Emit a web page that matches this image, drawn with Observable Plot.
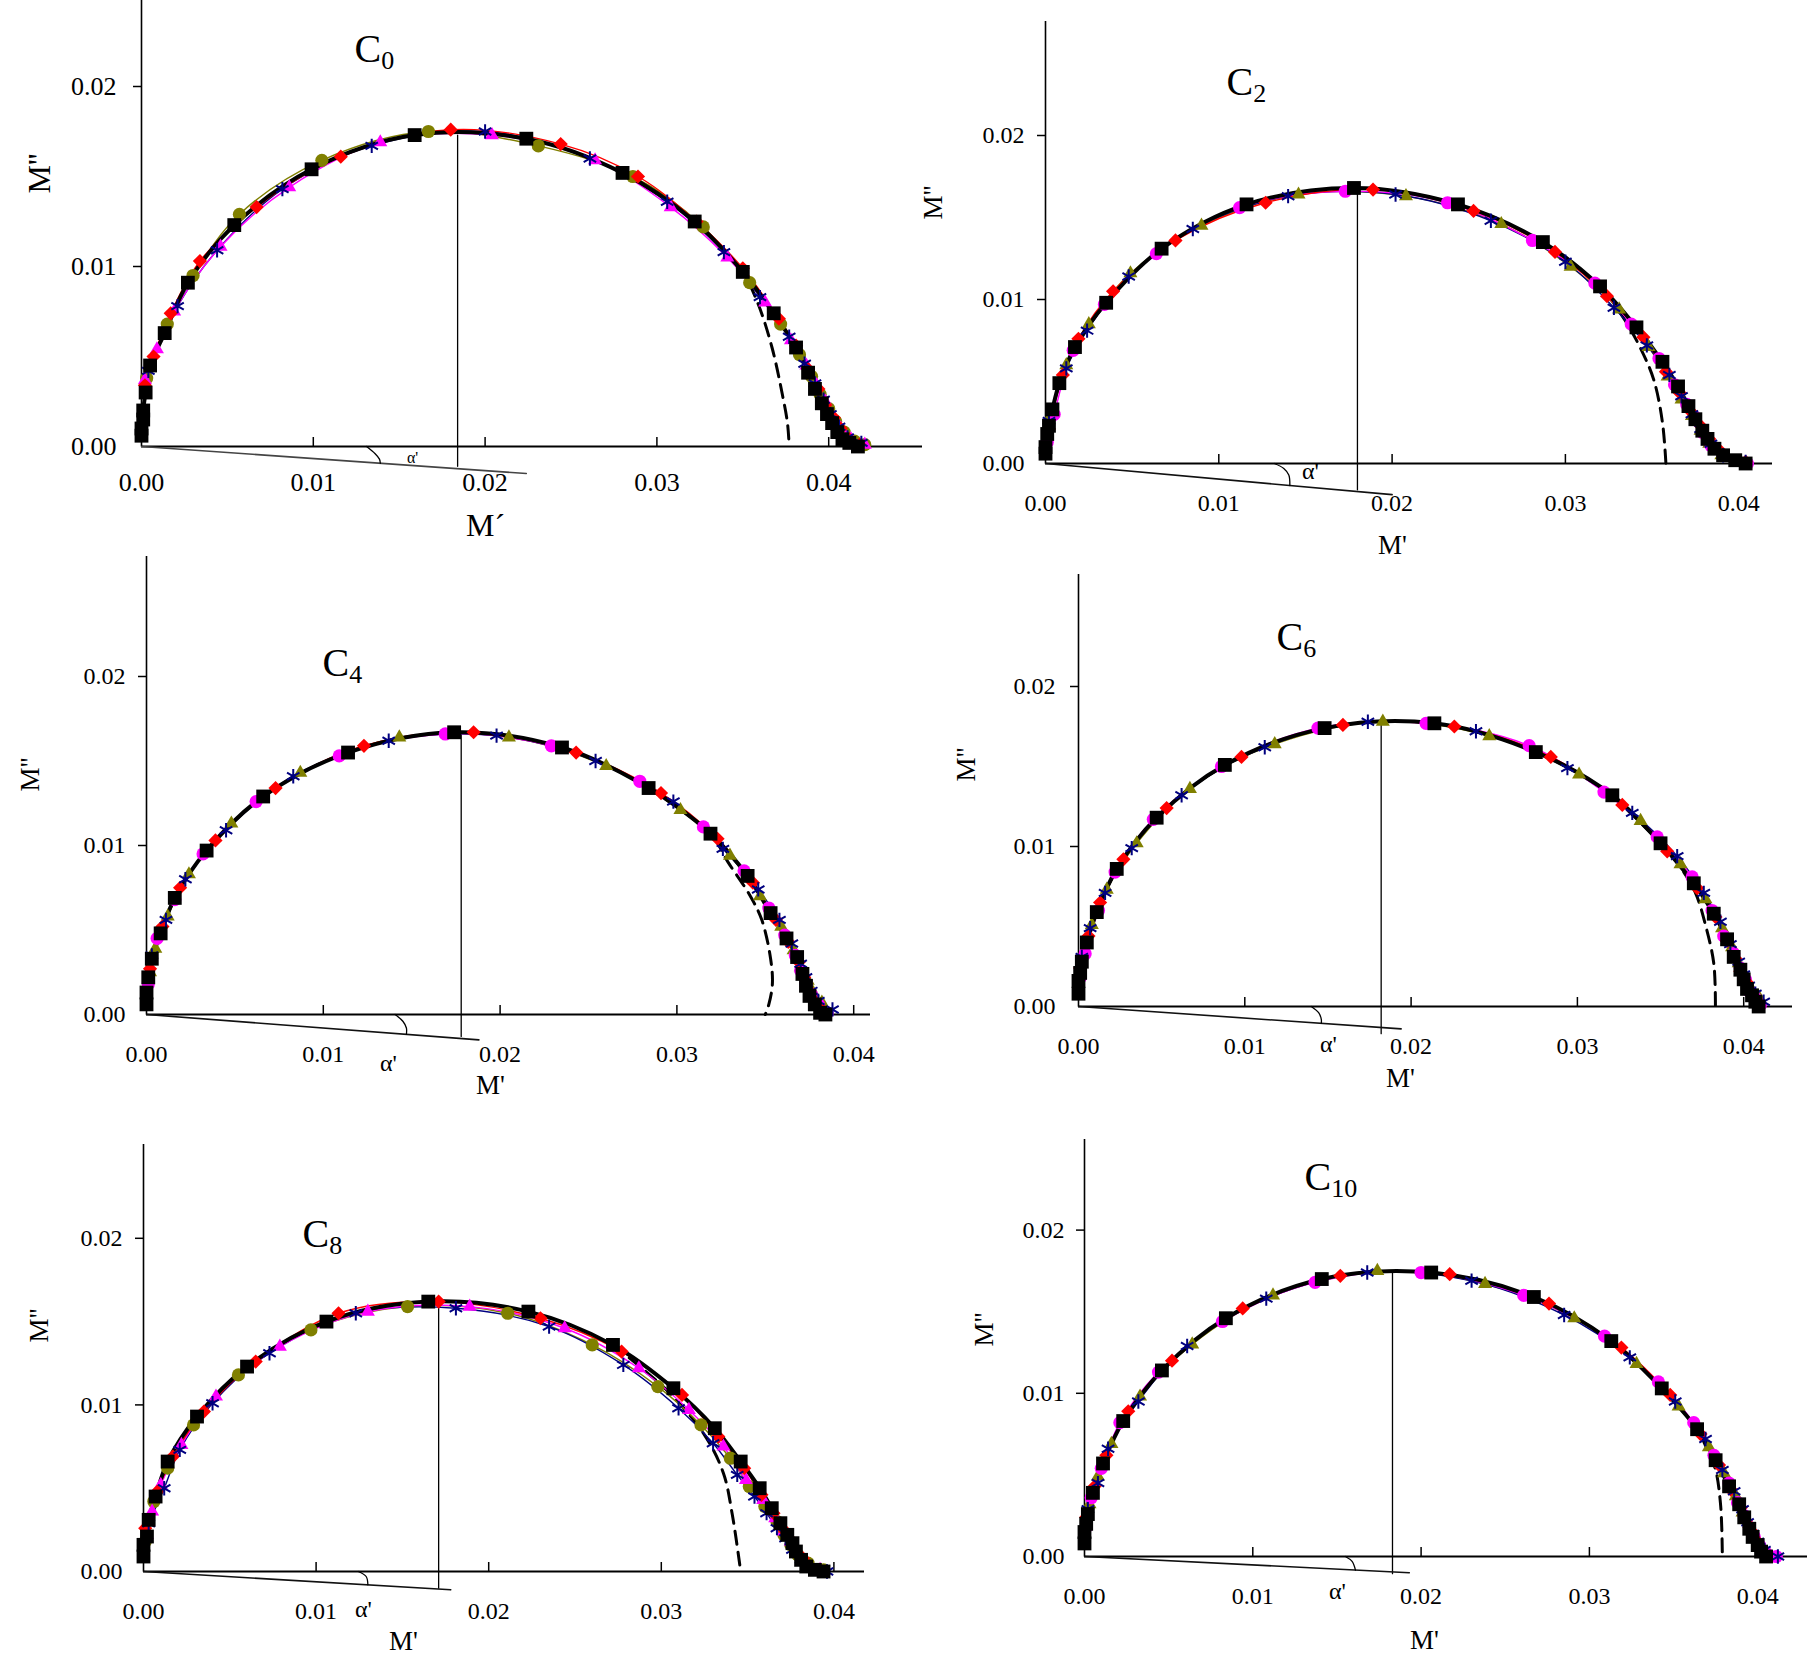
<!DOCTYPE html>
<html><head><meta charset="utf-8">
<script src="https://cdn.jsdelivr.net/npm/d3@7"></script>
<script src="https://cdn.jsdelivr.net/npm/@observablehq/plot@0.6"></script>
<style>
body{margin:0;background:#fff;}
#wrap{position:relative;width:1820px;height:1673px;overflow:hidden;background:#fff;}
.pn{position:absolute;}
</style></head><body><div id="wrap"></div>
<script>
// ---------- tick values ----------
const xTicks = [0, 0.01, 0.02, 0.03, 0.04];
const yTicks = [0, 0.01, 0.02];

// ---------- C0 ----------
const C0_black = [[0,0.0006],[0,0.001],[0.0001,0.0015],[0.0001,0.002],[0.00024,0.003],[0.0005,0.0045],[0.00135,0.0063],[0.0027,0.0091],[0.0054,0.0123],[0.0099,0.0154],[0.0159,0.0173],[0.0224,0.0171],[0.028,0.0152],[0.0322,0.0125],[0.035,0.0097],[0.0368,0.0074],[0.0381,0.0055],[0.0388,0.0041],[0.0392,0.0032],[0.0396,0.0024],[0.0399,0.0018],[0.0402,0.0013],[0.0405,0.0008],[0.0408,0.0004],[0.0412,0.0002],[0.0417,0]];
const C0_red = [[0.0002,0.0034],[0.0007,0.005],[0.0017,0.0074],[0.0034,0.0103],[0.0067,0.0133],[0.0116,0.0161],[0.018,0.0176],[0.0244,0.0168],[0.0289,0.015],[0.0323,0.0125],[0.035,0.0099],[0.0371,0.0071],[0.0381,0.0056],[0.0388,0.0043],[0.0394,0.0032],[0.0398,0.0023],[0.0403,0.0016],[0.0407,0.001],[0.0412,0.0004],[0.0418,0.0001]];
const C0_navy = [[0.0004,0.0042],[0.0021,0.0078],[0.0044,0.0109],[0.0082,0.0143],[0.0134,0.0167],[0.02,0.0175],[0.0261,0.016],[0.0306,0.0136],[0.0339,0.0108],[0.036,0.0083],[0.0377,0.0061],[0.0386,0.0046],[0.0392,0.0035],[0.0397,0.0026],[0.0401,0.0018],[0.0406,0.0011],[0.0411,0.0005],[0.0419,0.0002]];
const C0_olive = [[0.0003,0.0038],[0.0015,0.0068],[0.003,0.0095],[0.0057,0.0129],[0.0105,0.0159],[0.0167,0.0175],[0.0231,0.0167],[0.0286,0.015],[0.0327,0.0122],[0.0354,0.0091],[0.0372,0.0068],[0.0383,0.0051],[0.039,0.0039],[0.0395,0.0029],[0.04,0.0021],[0.0404,0.0014],[0.0409,0.0008],[0.0415,0.0003],[0.0421,0.0001]];
const C0_mag = [[0.0002,0.0037],[0.0009,0.0054],[0.0019,0.0075],[0.0046,0.0111],[0.0086,0.0144],[0.0139,0.0169],[0.0204,0.0173],[0.0264,0.0159],[0.0308,0.0133],[0.0341,0.0105],[0.0363,0.008],[0.0378,0.0059],[0.0387,0.0045],[0.0393,0.0034],[0.0398,0.0025],[0.0402,0.0017],[0.0407,0.001],[0.0413,0.0004],[0.0421,0.0001]];
const C0_dash = [[0.0322,0.0125],[0.0338,0.011],[0.035,0.0097],[0.0359,0.0079],[0.0367,0.0055],[0.0373,0.0029],[0.0376,0.0013],[0.0377,0]];
const C0_vert = [[0.0184,0.0173],[0.0184,-0.0011]];
const C0_slant = [[0,0],[0.0224,-0.0015]];
const C0_arc = [[0.0131,0],[0.0136,-0.0004],[0.01385,-0.0007],[0.0139,-0.00093]];

// ---------- C2 ----------
const C2_black = [[0,0.0006],[0,0.001],[0.0001,0.0018],[0.0002,0.0023],[0.0004,0.0033],[0.0008,0.0049],[0.0017,0.0071],[0.0035,0.0098],[0.0067,0.0131],[0.0116,0.0158],[0.0178,0.0168],[0.0238,0.0158],[0.0287,0.0135],[0.032,0.0108],[0.0341,0.0083],[0.0356,0.0062],[0.0365,0.0047],[0.0371,0.0035],[0.0375,0.0027],[0.0379,0.002],[0.0382,0.0015],[0.0386,0.0009],[0.0391,0.0005],[0.0398,0.0002],[0.0404,0]];
const C2_mag = [[0.0001,0.0013],[0.0005,0.003],[0.0016,0.0069],[0.0034,0.0097],[0.0064,0.0128],[0.0112,0.0156],[0.0173,0.0166],[0.0232,0.0159],[0.0281,0.0136],[0.0317,0.011],[0.0338,0.0085],[0.0354,0.0064],[0.0363,0.0048],[0.037,0.0036],[0.0375,0.0028],[0.0379,0.0019],[0.0384,0.0011],[0.0391,0.0005],[0.0405,0]];
const C2_red = [[0.0002,0.0021],[0.001,0.0054],[0.0019,0.0076],[0.0039,0.0105],[0.0075,0.0136],[0.0127,0.0159],[0.0189,0.0167],[0.0247,0.0154],[0.0294,0.0129],[0.0324,0.0102],[0.0345,0.0077],[0.0358,0.0056],[0.0366,0.0043],[0.0372,0.0032],[0.0378,0.0023],[0.0383,0.0015],[0.039,0.0007],[0.0404,0.0001]];
const C2_navy = [[0.0002,0.0026],[0.0012,0.0058],[0.0024,0.0081],[0.0048,0.0114],[0.0085,0.0143],[0.014,0.0163],[0.0202,0.0164],[0.0257,0.0148],[0.03,0.0123],[0.0328,0.0095],[0.0347,0.0072],[0.036,0.0054],[0.0367,0.0041],[0.0373,0.003],[0.0378,0.0021],[0.0384,0.0012],[0.0391,0.0005],[0.0404,0.0001]];
const C2_olive = [[0.0003,0.0029],[0.0012,0.006],[0.0025,0.0085],[0.0049,0.0116],[0.009,0.0145],[0.0146,0.0164],[0.0208,0.0163],[0.0263,0.0146],[0.0303,0.012],[0.0331,0.0094],[0.0348,0.0071],[0.0359,0.0053],[0.0367,0.0039],[0.0373,0.0029],[0.0378,0.002],[0.0383,0.0012],[0.039,0.0005],[0.0401,0.0001]];
const C2_dash = [[0.0287,0.0135],[0.032,0.0108],[0.0334,0.0088],[0.0343,0.0071],[0.0351,0.0051],[0.0356,0.0025],[0.0358,0]];
const C2_vert = [[0.018,0.0168],[0.018,-0.0016]];
const C2_slant = [[0,0],[0.02,-0.0019]];
const C2_arc = [[0.0132,0],[0.01375,-0.0003],[0.01404,-0.0007],[0.0141,-0.00134]];

// ---------- C4 ----------
const C4_black = [[0,0.0006],[0,0.0013],[0.0001,0.0022],[0.0003,0.0033],[0.0008,0.0048],[0.0016,0.0069],[0.0034,0.0097],[0.0066,0.0129],[0.0114,0.0155],[0.0174,0.0167],[0.0235,0.0158],[0.0284,0.0134],[0.0319,0.0107],[0.034,0.0082],[0.0353,0.006],[0.0362,0.0045],[0.0368,0.0034],[0.0371,0.0024],[0.0373,0.0017],[0.0375,0.0011],[0.0378,0.0006],[0.0381,0.0001],[0.0384,0]];
const C4_mag = [[0.0001,0.0018],[0.0006,0.0045],[0.0016,0.0068],[0.0032,0.0095],[0.0062,0.0126],[0.0109,0.0153],[0.0169,0.0166],[0.0229,0.0159],[0.0279,0.0138],[0.0315,0.0111],[0.0338,0.0085],[0.0352,0.0063],[0.0361,0.0047],[0.0367,0.0035],[0.037,0.0026],[0.0373,0.0018],[0.0376,0.0012],[0.038,0.0006],[0.0385,0.0001]];
const C4_red = [[0.0002,0.0027],[0.0009,0.0052],[0.0019,0.0075],[0.0039,0.0103],[0.0073,0.0134],[0.0123,0.0159],[0.0185,0.0167],[0.0243,0.0155],[0.0291,0.0131],[0.0323,0.0104],[0.0343,0.0078],[0.0356,0.0056],[0.0363,0.0043],[0.0369,0.0031],[0.0372,0.0022],[0.0374,0.0015],[0.0377,0.0009],[0.0381,0.0004]];
const C4_navy = [[0.0003,0.0035],[0.0011,0.0056],[0.0022,0.008],[0.0045,0.0109],[0.0083,0.0141],[0.0137,0.0162],[0.0198,0.0165],[0.0254,0.015],[0.0298,0.0126],[0.0326,0.0098],[0.0346,0.0074],[0.0358,0.0056],[0.0365,0.0042],[0.037,0.003],[0.0373,0.0022],[0.0376,0.0014],[0.038,0.0008],[0.0388,0.0003]];
const C4_olive = [[0.0002,0.0025],[0.0005,0.0039],[0.0012,0.0058],[0.0024,0.0083],[0.0048,0.0113],[0.0087,0.0143],[0.0143,0.0164],[0.0205,0.0164],[0.026,0.0147],[0.0302,0.0121],[0.033,0.0094],[0.0347,0.007],[0.0359,0.0052],[0.0366,0.0038],[0.037,0.0028],[0.0374,0.002],[0.0377,0.0013],[0.0382,0.0007]];
const C4_dash = [[0.0284,0.0134],[0.0319,0.0107],[0.0329,0.009],[0.0341,0.0071],[0.0348,0.0056],[0.0353,0.0033],[0.0354,0.0018],[0.0352,0.0006],[0.035,0]];
const C4_vert = [[0.0178,0.0167],[0.0178,-0.0013]];
const C4_slant = [[0,0],[0.0188,-0.0015]];
const C4_arc = [[0.01406,0],[0.0145,-0.0004],[0.0147,-0.0008],[0.0147,-0.00117]];

// ---------- C6 ----------
const C6_black = [[0,0.0008],[0,0.0016],[0.0001,0.0021],[0.0002,0.0028],[0.0005,0.004],[0.0011,0.0059],[0.0023,0.0086],[0.0047,0.0118],[0.0088,0.0151],[0.0148,0.0174],[0.0214,0.0177],[0.0275,0.0159],[0.0321,0.0132],[0.035,0.0102],[0.037,0.0077],[0.0382,0.0058],[0.039,0.0042],[0.0394,0.0031],[0.0398,0.0023],[0.04,0.0017],[0.0402,0.0011],[0.0405,0.0007],[0.0407,0.0003],[0.0409,0]];
const C6_mag = [[0.0001,0.0018],[0.0004,0.0033],[0.0012,0.006],[0.0022,0.0084],[0.0045,0.0117],[0.0086,0.015],[0.0144,0.0174],[0.0209,0.0177],[0.0271,0.0163],[0.0316,0.0134],[0.0348,0.0106],[0.0369,0.0081],[0.0381,0.006],[0.0388,0.0044],[0.0394,0.0033],[0.0398,0.0024],[0.0401,0.0017],[0.0403,0.001],[0.0407,0.0005],[0.041,0.0001]];
const C6_red = [[0.0001,0.0024],[0.0006,0.0044],[0.0013,0.0065],[0.0027,0.0092],[0.0053,0.0124],[0.0098,0.0156],[0.0159,0.0176],[0.0226,0.0175],[0.0284,0.0156],[0.0327,0.0126],[0.0354,0.0097],[0.0372,0.0074],[0.0383,0.0056],[0.039,0.0041],[0.0395,0.003],[0.0398,0.0022],[0.0402,0.0015],[0.0405,0.0009],[0.0408,0.0004]];
const C6_navy = [[0.0002,0.0031],[0.0007,0.0049],[0.0016,0.0071],[0.0032,0.0099],[0.0062,0.0132],[0.0112,0.0162],[0.0174,0.0178],[0.0239,0.0172],[0.0294,0.0149],[0.0333,0.0121],[0.036,0.0094],[0.0376,0.0071],[0.0386,0.0053],[0.0392,0.0039],[0.0397,0.0028],[0.04,0.002],[0.0403,0.0013],[0.0407,0.0008],[0.0412,0.0003]];
const C6_olive = [[0.0003,0.0033],[0.0008,0.0051],[0.0017,0.0073],[0.0035,0.0102],[0.0067,0.0136],[0.0118,0.0164],[0.0183,0.0178],[0.0247,0.0169],[0.0301,0.0145],[0.0338,0.0116],[0.0362,0.0089],[0.0377,0.0067],[0.0387,0.0049],[0.0393,0.0037],[0.0397,0.0027],[0.0401,0.0019],[0.0404,0.0012],[0.0409,0.0006]];
const C6_dash = [[0.0321,0.0132],[0.035,0.0102],[0.0362,0.0087],[0.0371,0.0071],[0.0377,0.0051],[0.0382,0.0027],[0.0383,0]];
const C6_vert = [[0.0182,0.0177],[0.0182,-0.0017]];
const C6_slant = [[0,0],[0.0194,-0.0014]];
const C6_arc = [[0.014,0],[0.01445,-0.0004],[0.0146,-0.0008],[0.0146,-0.00105]];

// ---------- C8 ----------
const C8_black = [[0,0.0009],[0,0.0016],[0.0002,0.0021],[0.0003,0.0031],[0.0007,0.0045],[0.0014,0.0066],[0.0031,0.0093],[0.006,0.0123],[0.0106,0.015],[0.0165,0.0162],[0.0223,0.0156],[0.0272,0.0136],[0.0307,0.011],[0.0331,0.0086],[0.0346,0.0066],[0.0357,0.005],[0.0364,0.0038],[0.0369,0.0029],[0.0373,0.0022],[0.0376,0.0017],[0.0378,0.0012],[0.0381,0.0007],[0.0384,0.0003],[0.0389,0.0001],[0.0394,0]];
const C8_red = [[0.0001,0.0026],[0.0008,0.0048],[0.0017,0.0069],[0.0035,0.0096],[0.0065,0.0126],[0.0113,0.0155],[0.0171,0.0162],[0.023,0.0152],[0.0277,0.0132],[0.0312,0.0106],[0.0333,0.0081],[0.0348,0.0062],[0.0358,0.0046],[0.0365,0.0035],[0.037,0.0026],[0.0374,0.002],[0.0377,0.0014],[0.0382,0.0008],[0.0386,0.0003]];
const C8_mag = [[0.0002,0.0022],[0.0005,0.0036],[0.001,0.0052],[0.0022,0.0076],[0.0042,0.0105],[0.0079,0.0135],[0.013,0.0156],[0.0189,0.0159],[0.0244,0.0146],[0.0287,0.0122],[0.0316,0.0097],[0.0336,0.0075],[0.0349,0.0055],[0.0359,0.0043],[0.0366,0.0032],[0.0371,0.0024],[0.0375,0.0018],[0.0378,0.0012],[0.0382,0.0006],[0.0392,0.0001]];
const C8_navy = [[0.0003,0.0029],[0.0012,0.005],[0.0021,0.0073],[0.004,0.0101],[0.0073,0.0131],[0.0123,0.0155],[0.0181,0.0158],[0.0235,0.0147],[0.0278,0.0124],[0.031,0.0098],[0.033,0.0077],[0.0344,0.0058],[0.0354,0.0045],[0.0361,0.0035],[0.0367,0.0026],[0.0372,0.002],[0.0376,0.0013],[0.0381,0.0007],[0.0387,0.0002],[0.0396,0]];
const C8_olive = [[0.0001,0.0018],[0.0006,0.0042],[0.0014,0.0062],[0.0029,0.0088],[0.0055,0.0118],[0.0097,0.0145],[0.0153,0.0159],[0.0211,0.0155],[0.026,0.0136],[0.0298,0.0111],[0.0323,0.0088],[0.034,0.0068],[0.0351,0.0051],[0.036,0.0039],[0.0367,0.003],[0.0371,0.0022],[0.0375,0.0016],[0.0379,0.001],[0.0385,0.0005],[0.0394,0.0001]];
const C8_dash = [[0.0272,0.0136],[0.0304,0.0108],[0.0325,0.0082],[0.0336,0.0059],[0.0341,0.0035],[0.0346,0]];
const C8_vert = [[0.0171,0.0162],[0.0171,-0.001]];
const C8_slant = [[0,0],[0.0178,-0.0011]];
const C8_arc = [[0.01244,0],[0.0129,-0.0003],[0.013,-0.0008]];

// ---------- C10 ----------
const C10_black = [[0,0.0008],[0,0.0015],[0.0001,0.002],[0.0002,0.0026],[0.0005,0.0039],[0.0011,0.0057],[0.0023,0.0083],[0.0046,0.0114],[0.0084,0.0146],[0.0141,0.017],[0.0206,0.0174],[0.0267,0.0159],[0.0313,0.0132],[0.0343,0.0103],[0.0364,0.0078],[0.0375,0.0059],[0.0383,0.0043],[0.0389,0.0032],[0.0392,0.0024],[0.0395,0.0017],[0.0397,0.0012],[0.04,0.0007],[0.0402,0.0003],[0.0405,0]];
const C10_mag = [[0.0001,0.0018],[0.0004,0.0036],[0.001,0.0054],[0.0021,0.0082],[0.0044,0.0113],[0.0082,0.0144],[0.0137,0.0168],[0.02,0.0174],[0.0261,0.016],[0.0309,0.0135],[0.0341,0.0107],[0.0362,0.0082],[0.0374,0.0062],[0.0383,0.0045],[0.0388,0.0033],[0.0392,0.0025],[0.0395,0.0018],[0.0398,0.0012],[0.0401,0.0007],[0.0405,0.0002],[0.0411,0]];
const C10_red = [[0.0001,0.0024],[0.0006,0.0043],[0.0013,0.0062],[0.0026,0.0089],[0.0052,0.012],[0.0094,0.0152],[0.0152,0.0172],[0.0217,0.0173],[0.0276,0.0155],[0.0319,0.0128],[0.0348,0.0099],[0.0366,0.0075],[0.0377,0.0056],[0.0384,0.0041],[0.039,0.003],[0.0393,0.0022],[0.0396,0.0016],[0.0399,0.001],[0.0402,0.0005]];
const C10_navy = [[0.0002,0.0029],[0.0008,0.0045],[0.0014,0.0066],[0.0032,0.0095],[0.0061,0.0129],[0.0108,0.0158],[0.0168,0.0174],[0.023,0.0169],[0.0285,0.0148],[0.0324,0.0122],[0.0351,0.0095],[0.0369,0.0072],[0.0379,0.0053],[0.0386,0.004],[0.0391,0.0029],[0.0394,0.0021],[0.0397,0.0014],[0.04,0.0009],[0.0404,0.0004],[0.0412,0]];
const C10_olive = [[0.0003,0.0032],[0.0008,0.0049],[0.0016,0.0069],[0.0033,0.0098],[0.0064,0.013],[0.0112,0.016],[0.0174,0.0175],[0.0238,0.0167],[0.0291,0.0146],[0.0328,0.0118],[0.0353,0.0092],[0.0371,0.0067],[0.038,0.0051],[0.0387,0.0037],[0.0391,0.0027],[0.0395,0.002],[0.0398,0.0013],[0.0401,0.0007]];
const C10_dash = [[0.0343,0.0103],[0.0364,0.0078],[0.0371,0.0063],[0.0375,0.0053],[0.0378,0.0031],[0.0379,0]];
const C10_vert = [[0.0183,0.0174],[0.0183,-0.00105]];
const C10_slant = [[0,0],[0.0193,-0.001]];
const C10_arc = [[0.0155,0],[0.0159,-0.0003],[0.0161,-0.00083]];

// ---------- panel texts ----------
const panelSubs = ["0", "2", "4", "6", "8", "10"];
const yLabelTexts = ["M''", "M''", "M''", "M''", "M''", "M''"];
const xLabelTexts = ["M\u00B4", "M'", "M'", "M'", "M'", "M'"];
const alphaText = "\u03B1'";

const DATA = [
  {black:C0_black, red:C0_red, navy:C0_navy, olive:C0_olive, mag:C0_mag, dash:C0_dash, vert:C0_vert, slant:C0_slant, arc:C0_arc},
  {black:C2_black, red:C2_red, navy:C2_navy, olive:C2_olive, mag:C2_mag, dash:C2_dash, vert:C2_vert, slant:C2_slant, arc:C2_arc},
  {black:C4_black, red:C4_red, navy:C4_navy, olive:C4_olive, mag:C4_mag, dash:C4_dash, vert:C4_vert, slant:C4_slant, arc:C4_arc},
  {black:C6_black, red:C6_red, navy:C6_navy, olive:C6_olive, mag:C6_mag, dash:C6_dash, vert:C6_vert, slant:C6_slant, arc:C6_arc},
  {black:C8_black, red:C8_red, navy:C8_navy, olive:C8_olive, mag:C8_mag, dash:C8_dash, vert:C8_vert, slant:C8_slant, arc:C8_arc},
  {black:C10_black, red:C10_red, navy:C10_navy, olive:C10_olive, mag:C10_mag, dash:C10_dash, vert:C10_vert, slant:C10_slant, arc:C10_arc}
];

// ---------- layout (page pixels) ----------
const LAYOUT = [
  {X0:141, Y0:446, Yt:0, Xr:922, dx:171.8, dy:180, magTri:true, tickFont:26, labFont:32, alphaFont:16, tickOffX:36, tickOffY:25, title:[354,61], yLab:[39,173], xLab:[485,525], alpha:[412,457], slantColor:"#444"},
  {X0:1045, Y0:463, Yt:21, Xr:1772, dx:173.3, dy:164, magTri:false, tickFont:24, labFont:27, alphaFont:24, tickOffX:40, tickOffY:21, title:[1226,94], yLab:[933,202], xLab:[1392,545], alpha:[1310,471], slantColor:"#111"},
  {X0:146, Y0:1014, Yt:556, Xr:870, dx:176.8, dy:169, magTri:false, tickFont:24, labFont:27, alphaFont:24, tickOffX:40, tickOffY:21, title:[322,675], yLab:[30,774], xLab:[490,1085], alpha:[388,1063], slantColor:"#111"},
  {X0:1078, Y0:1006, Yt:574, Xr:1792, dx:166.3, dy:160, magTri:false, tickFont:24, labFont:27, alphaFont:24, tickOffX:40, tickOffY:23, title:[1276,649], yLab:[966,764], xLab:[1400,1078], alpha:[1328,1044], slantColor:"#111"},
  {X0:143, Y0:1571, Yt:1144, Xr:864, dx:172.6, dy:166.6, magTri:true, tickFont:24, labFont:27, alphaFont:24, tickOffX:40, tickOffY:21, title:[302,1246], yLab:[39,1325], xLab:[403,1641], alpha:[363,1609], slantColor:"#111"},
  {X0:1084, Y0:1556, Yt:1139, Xr:1807, dx:168.3, dy:163.2, magTri:false, tickFont:24, labFont:27, alphaFont:24, tickOffX:40, tickOffY:20, title:[1304,1189], yLab:[984,1329], xLab:[1424,1640], alpha:[1337,1591], slantColor:"#111"}
];

const FONT = "'Liberation Serif','Times New Roman',Times,serif";
const COL = {red:"#ff0000", mag:"#ff00ff", navy:"#000080", olive:"#808000"};

function build(i) {
  const p = LAYOUT[i], d = DATA[i];
  const mL = 150, mT = 20, mR = 30, mB = 120;
  const fw = p.Xr - p.X0, fh = p.Y0 - p.Yt;
  const W = mL + fw + mR, H = mT + fh + mB;
  const xMax = fw / p.dx * 0.01, yMax = fh / p.dy * 0.01;
  const toD = ([px, py]) => [(px - p.X0) / p.dx * 0.01, (p.Y0 - py) / p.dy * 0.01];
  const X = q => q[0], Y = q => q[1];
  const thin = (arr, stroke) => Plot.line(arr, {x: X, y: Y, stroke, strokeWidth: 1.4, curve: "catmull-rom"});
  const magSym = p.magTri ? "triangle" : "circle";
  const oliSym = p.magTri ? "circle" : "triangle";
  const rOf = s => s === "triangle" ? 5.2 : 6.6;
  const t = toD(p.title), yl = toD(p.yLab), xl = toD(p.xLab), al = toD(p.alpha);
  const marks = [
    Plot.ruleY([0], {stroke: "black", strokeWidth: 2}),
    Plot.ruleX([0], {stroke: "black", strokeWidth: 1.6}),
    Plot.tickX(xTicks.slice(1), {x: v => v, insetTop: fh - 9, stroke: "black", strokeWidth: 1.5}),
    Plot.tickY(yTicks.slice(1), {y: v => v, insetLeft: -8, insetRight: fw, stroke: "black", strokeWidth: 1.5}),
    Plot.text(xTicks, {x: v => v, y: () => 0, dy: p.tickOffX, text: v => v.toFixed(2), fontSize: p.tickFont, fontFamily: FONT, lineAnchor: "middle", fill: "black"}),
    Plot.text(yTicks, {x: () => 0, y: v => v, dx: -p.tickOffY, text: v => v.toFixed(2), fontSize: p.tickFont, fontFamily: FONT, textAnchor: "end", lineAnchor: "middle", fill: "black"}),
    Plot.line(d.vert, {x: X, y: Y, stroke: "black", strokeWidth: 1.3}),
    Plot.line(d.slant, {x: X, y: Y, stroke: p.slantColor, strokeWidth: 1.6}),
    Plot.line(d.arc, {x: X, y: Y, stroke: "black", strokeWidth: 1.3, curve: "catmull-rom"}),
    Plot.line(d.dash, {x: X, y: Y, stroke: "black", strokeWidth: 3, strokeDasharray: "13,8", curve: "catmull-rom"}),
    thin(d.olive, COL.olive), thin(d.navy, COL.navy), thin(d.mag, COL.mag), thin(d.red, COL.red),
    Plot.line(d.black, {x: X, y: Y, stroke: "black", strokeWidth: 4, curve: "catmull-rom"}),
    Plot.dot(d.olive, {x: X, y: Y, symbol: oliSym, r: rOf(oliSym), fill: COL.olive, stroke: "none"}),
    Plot.dot(d.mag, {x: X, y: Y, symbol: magSym, r: rOf(magSym), fill: COL.mag, stroke: "none"}),
    Plot.dot(d.red, {x: X, y: Y, symbol: "diamond2", r: 6.4, fill: COL.red, stroke: "none"}),
    Plot.dot(d.navy, {x: X, y: Y, symbol: "asterisk", r: 6.8, stroke: COL.navy, strokeWidth: 2, fill: "none"}),
    Plot.dot(d.black, {x: X, y: Y, symbol: "square", r: 7.8, fill: "black", stroke: "none"}),
    Plot.text([t], {x: X, y: Y, text: () => "C", fontSize: 40, fontFamily: FONT, textAnchor: "start", lineAnchor: "bottom", fill: "black"}),
    Plot.text([t], {x: X, y: Y, text: () => panelSubs[i], dx: 26.7, dy: 7, fontSize: 26, fontFamily: FONT, textAnchor: "start", lineAnchor: "bottom", fill: "black"}),
    Plot.text([yl], {x: X, y: Y, text: () => yLabelTexts[i], rotate: -90, fontSize: p.labFont, fontFamily: FONT, lineAnchor: "middle", fill: "black"}),
    Plot.text([xl], {x: X, y: Y, text: () => xLabelTexts[i], fontSize: p.labFont, fontFamily: FONT, lineAnchor: "middle", fill: "black"}),
    Plot.text([al], {x: X, y: Y, text: () => alphaText, fontSize: p.alphaFont, fontFamily: FONT, lineAnchor: "middle", fill: "black"})
  ];
  const svg = Plot.plot({
    width: W, height: H,
    marginLeft: mL, marginTop: mT, marginRight: mR, marginBottom: mB,
    x: {domain: [0, xMax], axis: null},
    y: {domain: [0, yMax], axis: null},
    style: {background: "transparent", overflow: "visible", fontFamily: FONT, maxWidth: "none"},
    marks
  });
  const div = document.createElement("div");
  div.className = "pn";
  div.style.left = (p.X0 - mL) + "px";
  div.style.top = (p.Yt - mT) + "px";
  div.appendChild(svg);
  document.getElementById("wrap").appendChild(div);
}
for (let i = 0; i < 6; i++) build(i);
</script></body></html>
